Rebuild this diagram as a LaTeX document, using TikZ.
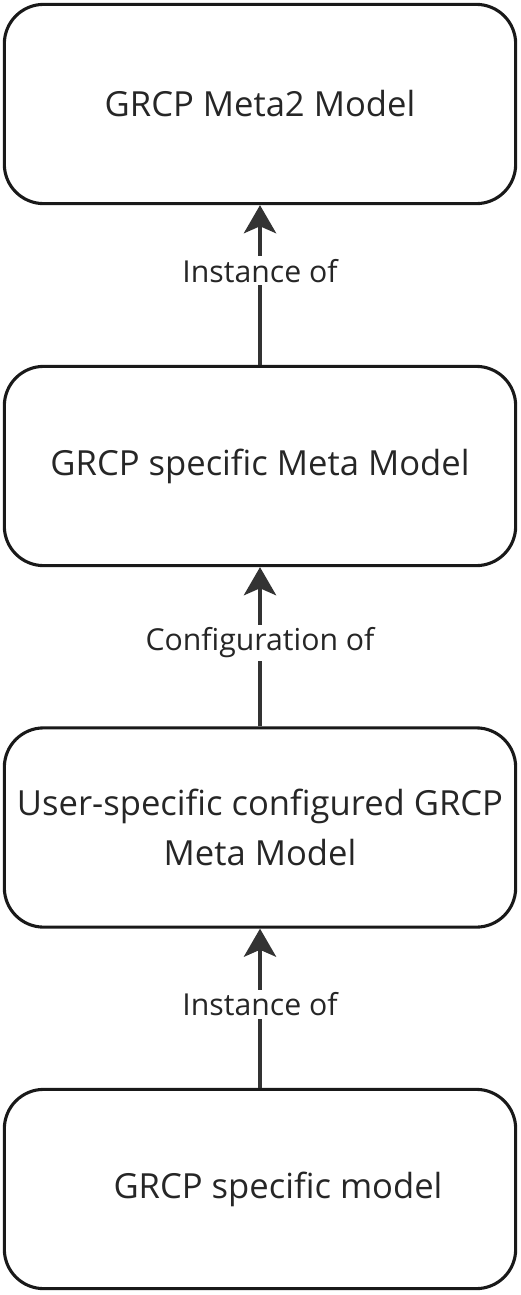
\documentclass[tikz,border=0pt]{standalone}
\usepackage{fontspec}
\setmainfont{Open Sans}
\usetikzlibrary{arrows.meta}

\begin{document}
\begin{tikzpicture}[x=0.025cm, y=-0.025cm,
        model/.style = {draw=black!90, line width=2.2pt, rounded corners=28pt,
                        minimum width=12.78cm, minimum height=4.98cm,
                        align=center, font={\fontsize{24.6}{35.5}\selectfont}, text=black!85},
        relation/.style = {-{Stealth[length=20pt, width=23pt, inset=5pt]},
                           line width=2.2pt, color=black!80},
        rellabel/.style = {fill=white, font={\fontsize{21.5}{24}\selectfont}, text=black!85, inner sep=2pt}]
        \useasboundingbox (0, 0) rectangle (520, 1295);
        \node[model] (meta2) at (260, 104) {GRCP Meta2 Model};
        \node[model] (specific) at (260, 466) {GRCP specific Meta Model};
        \node[model] (userconf) at (260, 827.5) {User-specific configured GRCP\\Meta Model};
        \node[model] (grcpmodel) at (260, 1189) {\hspace*{0.9cm}GRCP specific model};
        \draw[relation] (specific.north) -- node[rellabel, yshift=10pt] {Instance of} (meta2.south);
        \draw[relation] (userconf.north) -- node[rellabel, yshift=3pt] {Configuration of} (specific.south);
        \draw[relation] (grcpmodel.north) -- node[rellabel, yshift=3pt] {Instance of} (userconf.south);
\end{tikzpicture}
\end{document}
